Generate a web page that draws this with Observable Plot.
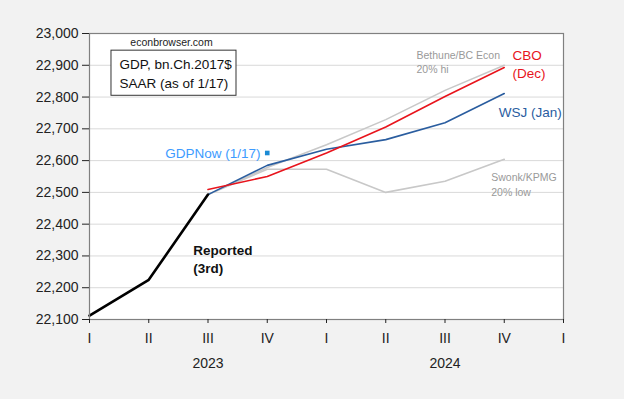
<!DOCTYPE html>
<html><head><meta charset="utf-8">
<script src="https://cdn.jsdelivr.net/npm/d3@7"></script>
<script src="https://cdn.jsdelivr.net/npm/@observablehq/plot@0.6"></script>
<style>
body{margin:0;background:#f2f2f2;}
#chart svg{display:block;}
</style>
</head><body><div id="chart"></div>
<script>
// Quarter index 0 = 2023Q1 ... 8 = 2025Q1
const quarterLabels = ["I","II","III","IV","I","II","III","IV","I"];
const yearTicks = [2, 6];
const yearLabels = ["2023", "2024"];
const yTicks = [22100,22200,22300,22400,22500,22600,22700,22800,22900,23000];

const reportedQ = [0, 1, 2];
const reported = [22112, 22225, 22493];

const forecastQ = [2, 3, 4, 5, 6, 7];
const cbo = [22509, 22550, 22624, 22706, 22802, 22893];
const wsj = [22493, 22585, 22636, 22666, 22719, 22811];
const hi20 = [22493, 22578, 22650, 22729, 22821, 22900];
const lo20 = [22493, 22573, 22573, 22500, 22535, 22604];

const gdpNowQ = [3];
const gdpNow = [22624];

const toRows = (qs, vs) => qs.map((q, i) => ({q, v: vs[i]}));

const font = "'Liberation Sans', Arial, sans-serif";

const chart = Plot.plot({
  width: 624,
  height: 399,
  marginLeft: 89,
  marginRight: 61,
  marginTop: 33,
  marginBottom: 80,
  style: {background: "#f2f2f2", fontFamily: font, color: "#222"},
  x: {domain: [0, 8]},
  y: {domain: [22100, 23000]},
  marks: [
    Plot.frame({fill: "white", stroke: null}),
    Plot.gridY(yTicks, {stroke: "#d9d9d9", strokeOpacity: 1}),
    Plot.rect([0], {x1: 0.371, x2: 2.481, y1: 22804, y2: 22946, fill: "white", stroke: "#333", strokeWidth: 1}),
    Plot.line(toRows(forecastQ, lo20), {x: "q", y: "v", stroke: "#c8c8c8", strokeWidth: 1.6}),
    Plot.line(toRows(forecastQ, hi20), {x: "q", y: "v", stroke: "#c8c8c8", strokeWidth: 1.6}),
    Plot.line(toRows(forecastQ, wsj), {x: "q", y: "v", stroke: "#2a5d9f", strokeWidth: 1.6}),
    Plot.line(toRows(forecastQ, cbo), {x: "q", y: "v", stroke: "#e8141c", strokeWidth: 1.6}),
    Plot.line(toRows(reportedQ, reported), {x: "q", y: "v", stroke: "#000", strokeWidth: 2.6}),
    Plot.dot(toRows(gdpNowQ, gdpNow), {x: "q", y: "v", symbol: "square", r: 2.6, fill: "#1a8ad4", stroke: null}),
    Plot.frame({stroke: "#808080", strokeWidth: 1.2}),
    Plot.axisY(yTicks, {tickSize: 7, tickPadding: 4, tickFormat: d3.format(","), fontSize: 14, label: null, color: "#222"}),
    Plot.axisX(d3.range(9), {tickSize: 4, tickPadding: 10, tickFormat: i => quarterLabels[i], fontSize: 14, label: null, color: "#222"}),
    Plot.axisX(yearTicks, {tickSize: 0, tickPadding: 39, tickFormat: (d, i) => yearLabels[i], fontSize: 14, label: null, color: "#222"}),
    // annotations
    Plot.text(["econbrowser.com"], {x: 1.384, y: 22972.6, text: d => d, fontSize: 10.5, fill: "#222"}),
    Plot.text(["GDP, bn.Ch.2017$"], {x: 0.506, y: 22901.5, text: d => d, textAnchor: "start", fontSize: 13.5, fill: "#111"}),
    Plot.text(["SAAR (as of 1/17)"], {x: 0.506, y: 22843.6, text: d => d, textAnchor: "start", fontSize: 13.5, fill: "#111"}),
    Plot.text(["GDPNow (1/17)"], {x: 2.886, y: 22623.3, text: d => d, textAnchor: "end", fontSize: 13.5, fill: "#3d9bff"}),
    Plot.text(["Reported"], {x: 1.75, y: 22317.2, text: d => d, textAnchor: "start", fontSize: 13.5, fontWeight: "bold", fill: "#111"}),
    Plot.text(["(3rd)"], {x: 1.75, y: 22259.6, text: d => d, textAnchor: "start", fontSize: 13.5, fontWeight: "bold", fill: "#111"}),
    Plot.text(["Bethune/BC Econ"], {x: 5.519, y: 22930.8, text: d => d, textAnchor: "start", fontSize: 10.5, fill: "#999"}),
    Plot.text(["20% hi"], {x: 5.519, y: 22885.8, text: d => d, textAnchor: "start", fontSize: 10.5, fill: "#999"}),
    Plot.text(["CBO"], {x: 7.139, y: 22930.8, text: d => d, textAnchor: "start", fontSize: 13.5, fill: "#e8141c"}),
    Plot.text(["(Dec)"], {x: 7.139, y: 22873.2, text: d => d, textAnchor: "start", fontSize: 13.5, fill: "#e8141c"}),
    Plot.text(["WSJ (Jan)"], {x: 6.908, y: 22752.4, text: d => d, textAnchor: "start", fontSize: 13.5, fill: "#2a5d9f"}),
    Plot.text(["Swonk/KPMG"], {x: 6.78, y: 22547.8, text: d => d, textAnchor: "start", fontSize: 10.5, fill: "#999"}),
    Plot.text(["20% low"], {x: 6.78, y: 22500.6, text: d => d, textAnchor: "start", fontSize: 10.5, fill: "#999"})
  ]
});
document.getElementById("chart").appendChild(chart);
</script>
</body></html>
